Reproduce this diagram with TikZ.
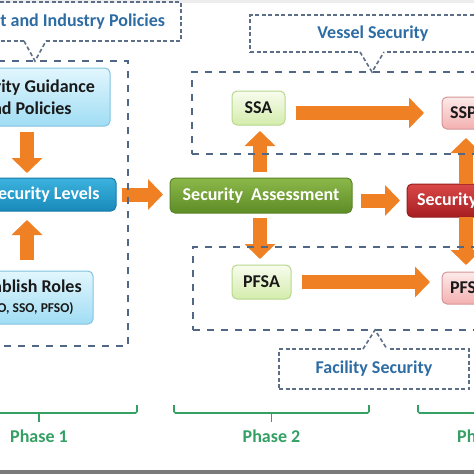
\documentclass[tikz,border=0pt]{standalone}
\usepackage{fontspec}
\setmainfont{Carlito}
\usetikzlibrary{arrows.meta,calc}
\definecolor{orA}{RGB}{240,128,36}
\definecolor{dashC}{RGB}{80,104,134}
\definecolor{labC}{RGB}{92,110,136}
\definecolor{labT}{RGB}{46,108,164}
\definecolor{phG}{RGB}{52,160,100}
\definecolor{lbTop}{RGB}{226,246,253}
\definecolor{lbBot}{RGB}{160,221,244}
\definecolor{lbDraw}{RGB}{130,196,224}
\definecolor{tlTop}{RGB}{60,178,222}
\definecolor{tlBot}{RGB}{24,138,186}
\definecolor{tlDraw}{RGB}{26,122,166}
\definecolor{gTop}{RGB}{140,184,74}
\definecolor{gBot}{RGB}{94,140,38}
\definecolor{gDraw}{RGB}{90,134,40}
\definecolor{lgTop}{RGB}{248,252,238}
\definecolor{lgBot}{RGB}{212,236,172}
\definecolor{lgDraw}{RGB}{184,216,140}
\definecolor{pkTop}{RGB}{253,234,234}
\definecolor{pkBot}{RGB}{244,176,176}
\definecolor{pkDraw}{RGB}{214,150,150}
\definecolor{rdTop}{RGB}{218,72,72}
\definecolor{rdBot}{RGB}{166,30,34}
\definecolor{rdDraw}{RGB}{150,30,30}
\begin{document}
\begin{tikzpicture}[x=1pt,y=-1pt,
  boxbase/.style={rounded corners=5pt, line width=1pt, inner sep=0pt, outer sep=0pt,
     font=\fontsize{18}{22}\selectfont\bfseries, align=center},
  lbox/.style={boxbase, top color=lbTop, bottom color=lbBot, draw=lbDraw, text=black!90},
  tbox/.style={boxbase, top color=tlTop, bottom color=tlBot, draw=tlDraw, text=white},
  gbox/.style={boxbase, top color=gTop, bottom color=gBot, draw=gDraw, text=white},
  lgbox/.style={boxbase, top color=lgTop, bottom color=lgBot, draw=lgDraw, text=black!90},
  pkbox/.style={boxbase, top color=pkTop, bottom color=pkBot, draw=pkDraw, text=black!90},
  rdbox/.style={boxbase, top color=rdTop, bottom color=rdBot, draw=rdDraw, text=white},
  grp/.style={draw=dashC, line width=2pt, dash pattern=on 7pt off 7pt, inner sep=0pt, outer sep=0pt},
  lab/.style={draw=labC, line width=1.6pt, dash pattern=on 4pt off 2.5pt, inner sep=0pt, outer sep=0pt,
     text=labT, font=\fontsize{18}{22}\selectfont\bfseries},
  chev/.style={draw=labC, line width=1.6pt, dash pattern=on 4pt off 2.5pt, line join=miter},
  fat/.style={draw=orA, line width=14pt, -{Triangle[width=30pt,length=15pt]}},
  brk/.style={draw=phG, line width=1.6pt, rounded corners=1.5pt},
  ph/.style={text=phG, font=\fontsize{18}{22}\selectfont\bfseries, inner sep=0pt}
]
\useasboundingbox (0,0) rectangle (474,474);
\clip (0,0) rectangle (474,474);
\fill[white] (0,0) rectangle (474,474);
\fill[black!7] (0,0) rectangle (474,2.5);
\fill[black!52] (0,470) rectangle (474,474);

% helper coordinates
\coordinate (c1) at (27,0);
\coordinate (c2) at (260,0);
\coordinate (c3) at (466,0);
\coordinate (cp) at (35,0);
\coordinate (cv) at (372,0);
\coordinate (cf) at (375,0);

% boxes
\node[lbox, minimum width=165pt, minimum height=58pt] (gp) at (27.5,97) {Security Guidance\\and Policies};
\node[tbox, minimum width=143pt, minimum height=33pt] (lvl) at (44.5,194.5) {Security Levels};
\node[lbox, minimum width=133pt, minimum height=53pt] (roles) at (26.5,297.5) {Establish Roles\\[-2pt]{\fontsize{13.5}{16}\selectfont (CSO, SSO, PFSO)}};
\node[gbox, minimum width=182pt, minimum height=35pt] (sa) at (261,195.5) {Security\ \ Assessment};
\node[lgbox, minimum width=53pt, minimum height=34pt] (ssa) at (258.5,108) {SSA};
\node[lgbox, minimum width=59pt, minimum height=34pt] (pfsa) at (261.5,282) {PFSA};
\node[pkbox, anchor=west, minimum height=32pt, inner xsep=8pt] (ssp) at (442,113) {SSP};
\node[pkbox, anchor=west, minimum height=32pt, inner xsep=8pt] (pfsp) at (442,288) {PFSP};
\node[rdbox, anchor=west, minimum height=33pt, inner xsep=10pt] (sp) at (407,200.5) {Security Plans};

% orange arrows
\draw[fat, shorten <=6pt, shorten >=5pt] (gp.south -| c1) -- (lvl.north -| c1);
\draw[fat, shorten <=11pt, shorten >=9pt] (roles.north -| c1) -- (lvl.south -| c1);
\draw[fat, shorten <=6pt, shorten >=7pt] (lvl.east) -- (lvl.east -| sa.west);
\draw[fat, shorten <=6pt, shorten >=6pt] (sa.north -| c2) -- (ssa.south -| c2);
\draw[fat, shorten <=5pt, shorten >=6pt] (sa.south -| c2) -- (pfsa.north -| c2);
\draw[fat, shorten <=11pt, shorten >=18pt] (ssa.east |- ssp.west) -- (ssp.west);
\draw[fat, shorten <=11pt, shorten >=12pt] (pfsa.east) -- (pfsa.east -| pfsp.west);
\draw[fat, shorten <=9pt, shorten >=7pt] (sa.east |- sp.west) -- (sp.west);
\draw[fat, shorten <=0pt, shorten >=9pt] (sp.north -| c3) -- (ssp.south -| c3);
\draw[fat, shorten <=0pt, shorten >=7pt] (sp.south -| c3) -- (pfsp.north -| c3);

% group boxes
\node[grp, minimum width=138pt, minimum height=285pt] (g1) at (59,203.5) {};
\node[grp, minimum width=298pt, minimum height=82pt] (gv) at (341,113) {};
\node[grp, minimum width=297pt, minimum height=83pt] (gf) at (341.5,288.5) {};

% label boxes
\node[lab, anchor=east, minimum height=39pt, inner xsep=16pt] (pol) at (181,21.5) {Government and Industry Policies};
\node[lab, minimum width=246pt, minimum height=37pt] (vs) at (373,33.5) {Vessel Security};
\node[lab, minimum width=190pt, minimum height=40pt] (fs) at (374,369) {Facility Security};

% chevrons
\draw[white, line width=3pt] ($(pol.south -| cp)+(-11,0)$) -- ($(pol.south -| cp)+(11,0)$);
\draw[chev] ($(pol.south -| cp)+(-11,0)$) -- (g1.north -| cp) -- ($(pol.south -| cp)+(11,0)$);
\draw[white, line width=3pt] ($(vs.south -| cv)+(-12,0)$) -- ($(vs.south -| cv)+(12,0)$);
\draw[chev] ($(vs.south -| cv)+(-12,0)$) -- (gv.north -| cv) -- ($(vs.south -| cv)+(12,0)$);
\draw[white, line width=3pt] ($(fs.north -| cf)+(-12,0)$) -- ($(fs.north -| cf)+(12,0)$);
\draw[chev] ($(fs.north -| cf)+(-12,0)$) -- (gf.south -| cf) -- ($(fs.north -| cf)+(12,0)$);

% phases
\node[ph] (p1) at (39,436) {Phase 1};
\node[ph] (p2) at (271.5,436) {Phase 2};
\node[ph] (p3) at (486,436) {Phase 3};
\coordinate (b1) at (39,413);
\coordinate (b2) at (271.5,413);
\coordinate (b3) at (486,413);
\draw[brk] (-5,413) -- (137,413) -- (137,405);
\draw[brk] (174,405) -- (174,413) -- (369,413) -- (369,405);
\draw[brk] (418,405) -- (418,413) -- (560,413);
\draw[brk] (b1) -- ($(b1)+(0,9)$);
\draw[brk] (b2) -- ($(b2)+(0,9)$);
\draw[brk] (b3) -- ($(b3)+(0,9)$);
\end{tikzpicture}
\end{document}
